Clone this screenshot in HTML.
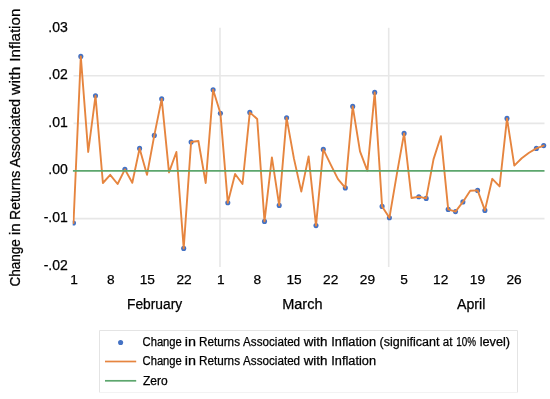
<!DOCTYPE html>
<html><head><meta charset="utf-8"><title>Change in Returns Associated with Inflation</title>
<style>html,body{margin:0;padding:0;background:#fff;}svg{display:block;}text{font-family:"Liberation Sans",sans-serif;fill:#000;stroke:#000;stroke-width:0.25px;}</style></head><body>
<svg width="550" height="399" viewBox="0 0 550 399">
<rect width="550" height="399" fill="#fff"/>
<g stroke="#e7e7e7" stroke-width="1.6" fill="none">
<line x1="73.5" x2="544.5" y1="75.8" y2="75.8"/>
<line x1="73.5" x2="544.5" y1="123.4" y2="123.4"/>
<line x1="73.5" x2="544.5" y1="218.6" y2="218.6"/>
<line x1="220.0" x2="220.0" y1="27.8" y2="267"/>
<line x1="388.7" x2="388.7" y1="27.8" y2="267"/>
</g>
<clipPath id="pc"><rect x="72.7" y="20" width="477.3" height="250"/></clipPath><g clip-path="url(#pc)">
<g fill="#4472c4"><circle cx="73.5" cy="223.0" r="2.55"/>
<circle cx="80.8" cy="56.4" r="2.55"/>
<circle cx="95.5" cy="95.8" r="2.55"/>
<circle cx="124.9" cy="169.4" r="2.55"/>
<circle cx="139.6" cy="148.4" r="2.55"/>
<circle cx="154.3" cy="135.4" r="2.55"/>
<circle cx="161.7" cy="98.9" r="2.55"/>
<circle cx="183.7" cy="248.4" r="2.55"/>
<circle cx="191.1" cy="142.0" r="2.55"/>
<circle cx="213.1" cy="89.8" r="2.55"/>
<circle cx="220.4" cy="113.2" r="2.55"/>
<circle cx="227.8" cy="202.8" r="2.55"/>
<circle cx="249.8" cy="112.4" r="2.55"/>
<circle cx="264.5" cy="221.4" r="2.55"/>
<circle cx="279.2" cy="205.4" r="2.55"/>
<circle cx="286.6" cy="117.8" r="2.55"/>
<circle cx="316.0" cy="225.6" r="2.55"/>
<circle cx="323.3" cy="149.4" r="2.55"/>
<circle cx="345.3" cy="187.9" r="2.55"/>
<circle cx="352.7" cy="106.4" r="2.55"/>
<circle cx="374.7" cy="92.4" r="2.55"/>
<circle cx="382.1" cy="206.4" r="2.55"/>
<circle cx="389.4" cy="217.8" r="2.55"/>
<circle cx="404.1" cy="133.4" r="2.55"/>
<circle cx="418.8" cy="196.8" r="2.55"/>
<circle cx="426.2" cy="198.4" r="2.55"/>
<circle cx="448.2" cy="209.4" r="2.55"/>
<circle cx="455.5" cy="211.6" r="2.55"/>
<circle cx="462.9" cy="201.9" r="2.55"/>
<circle cx="477.6" cy="190.4" r="2.55"/>
<circle cx="484.9" cy="210.4" r="2.55"/>
<circle cx="507.0" cy="118.4" r="2.55"/>
<circle cx="536.4" cy="148.4" r="2.55"/>
<circle cx="543.7" cy="145.6" r="2.55"/></g>
<polyline points="73.5,223.0 80.8,56.4 88.2,152.0 95.5,95.8 102.9,183.0 110.2,174.8 117.6,184.0 124.9,169.4 132.3,182.8 139.6,148.4 147.0,174.8 154.3,135.4 161.7,98.9 169.0,172.4 176.4,152.0 183.7,248.4 191.1,142.0 198.4,141.0 205.7,183.0 213.1,89.8 220.4,113.2 227.8,202.8 235.1,174.0 242.5,184.0 249.8,112.4 257.2,119.0 264.5,221.4 271.9,157.4 279.2,205.4 286.6,117.8 293.9,158.4 301.3,191.6 308.6,156.4 316.0,225.6 323.3,149.4 330.6,164.4 338.0,179.2 345.3,187.9 352.7,106.4 360.0,151.4 367.4,170.8 374.7,92.4 382.1,206.4 389.4,217.8 396.8,174.4 404.1,133.4 411.5,198.0 418.8,196.8 426.2,198.4 433.5,159.4 440.9,136.2 448.2,209.4 455.5,211.6 462.9,201.9 470.2,190.8 477.6,190.4 484.9,210.4 492.3,178.8 499.6,186.4 507.0,118.4 514.3,165.6 521.7,158.3 529.0,152.8 536.4,148.4 543.7,145.6" fill="none" stroke="#e6853f" stroke-width="1.9" stroke-linejoin="round" stroke-linecap="round"/>
<line x1="72.7" x2="544.5" y1="170.8" y2="170.8" stroke="#5ca66d" stroke-width="1.8"/></g>
<g font-size="14" text-anchor="end">
<text x="67.8" y="31.7">.03</text>
<text x="67.8" y="79.2">.02</text>
<text x="67.8" y="126.9">.01</text>
<text x="67.8" y="174.4">.00</text>
<text x="67.8" y="222.0">-.01</text>
<text x="67.8" y="269.6">-.02</text>
</g>
<g font-size="13.7" text-anchor="middle">
<text x="74.0" y="284.3">1</text>
<text x="110.7" y="284.3">8</text>
<text x="147.3" y="284.3">15</text>
<text x="184.0" y="284.3">22</text>
<text x="220.7" y="284.3">1</text>
<text x="257.4" y="284.3">8</text>
<text x="294.0" y="284.3">15</text>
<text x="330.7" y="284.3">22</text>
<text x="367.4" y="284.3">29</text>
<text x="404.0" y="284.3">5</text>
<text x="440.7" y="284.3">12</text>
<text x="477.4" y="284.3">19</text>
<text x="514.0" y="284.3">26</text>
</g><g font-size="14">
<text x="127.0" y="309" textLength="55.2" lengthAdjust="spacingAndGlyphs">February</text><text x="282.2" y="309" textLength="40.3" lengthAdjust="spacingAndGlyphs">March</text><text x="457.0" y="309" textLength="28.3" lengthAdjust="spacingAndGlyphs">April</text>
</g>
<text font-size="14" transform="translate(19.8,0) rotate(-90)"><tspan x="-286.5" textLength="47.3" lengthAdjust="spacingAndGlyphs">Change</tspan> <tspan x="-235.0" textLength="11.7" lengthAdjust="spacingAndGlyphs">in</tspan> <tspan x="-220.0" textLength="49.2" lengthAdjust="spacingAndGlyphs">Returns</tspan> <tspan x="-167.3" textLength="68.2" lengthAdjust="spacingAndGlyphs">Associated</tspan> <tspan x="-94.9" textLength="28.1" lengthAdjust="spacingAndGlyphs">with</tspan> <tspan x="-61.7" textLength="53.0" lengthAdjust="spacingAndGlyphs">Inflation</tspan></text>
<rect x="99.4" y="330.5" width="418" height="62" fill="#fff"/><path d="M99.5 392.5V330.5H517.5V392.5" fill="none" stroke="#e4e4e4" stroke-width="1"/><path d="M99.5 392.5H517.5" fill="none" stroke="#f3f3f3" stroke-width="1"/>
<circle cx="120.6" cy="342.5" r="2.55" fill="#4472c4"/>
<line x1="105" x2="136.2" y1="361.5" y2="361.5" stroke="#e6853f" stroke-width="1.7"/>
<line x1="105" x2="136.2" y1="380.8" y2="380.8" stroke="#5ca66d" stroke-width="1.7"/>
<g font-size="12">
<text y="346"><tspan x="142.6" textLength="39.2" lengthAdjust="spacingAndGlyphs">Change</tspan> <tspan x="184.8" textLength="11.2" lengthAdjust="spacingAndGlyphs">in</tspan> <tspan x="199.0" textLength="41.0" lengthAdjust="spacingAndGlyphs">Returns</tspan> <tspan x="243.1" textLength="57.0" lengthAdjust="spacingAndGlyphs">Associated</tspan> <tspan x="303.7" textLength="23.8" lengthAdjust="spacingAndGlyphs">with</tspan> <tspan x="331.3" textLength="44.7" lengthAdjust="spacingAndGlyphs">Inflation</tspan> <tspan x="379.6" textLength="59.8" lengthAdjust="spacingAndGlyphs">(significant</tspan> <tspan x="442.8" textLength="9.6" lengthAdjust="spacingAndGlyphs">at</tspan> <tspan x="456.2" textLength="19.8" lengthAdjust="spacingAndGlyphs">10%</tspan> <tspan x="479.7" textLength="30.4" lengthAdjust="spacingAndGlyphs">level)</tspan></text>
<text y="365"><tspan x="142.6" textLength="39.2" lengthAdjust="spacingAndGlyphs">Change</tspan> <tspan x="184.8" textLength="11.2" lengthAdjust="spacingAndGlyphs">in</tspan> <tspan x="199.0" textLength="41.0" lengthAdjust="spacingAndGlyphs">Returns</tspan> <tspan x="243.1" textLength="57.0" lengthAdjust="spacingAndGlyphs">Associated</tspan> <tspan x="303.7" textLength="23.8" lengthAdjust="spacingAndGlyphs">with</tspan> <tspan x="331.3" textLength="44.7" lengthAdjust="spacingAndGlyphs">Inflation</tspan></text>
<text x="143" y="384.5">Zero</text>
</g>
</svg></body></html>
